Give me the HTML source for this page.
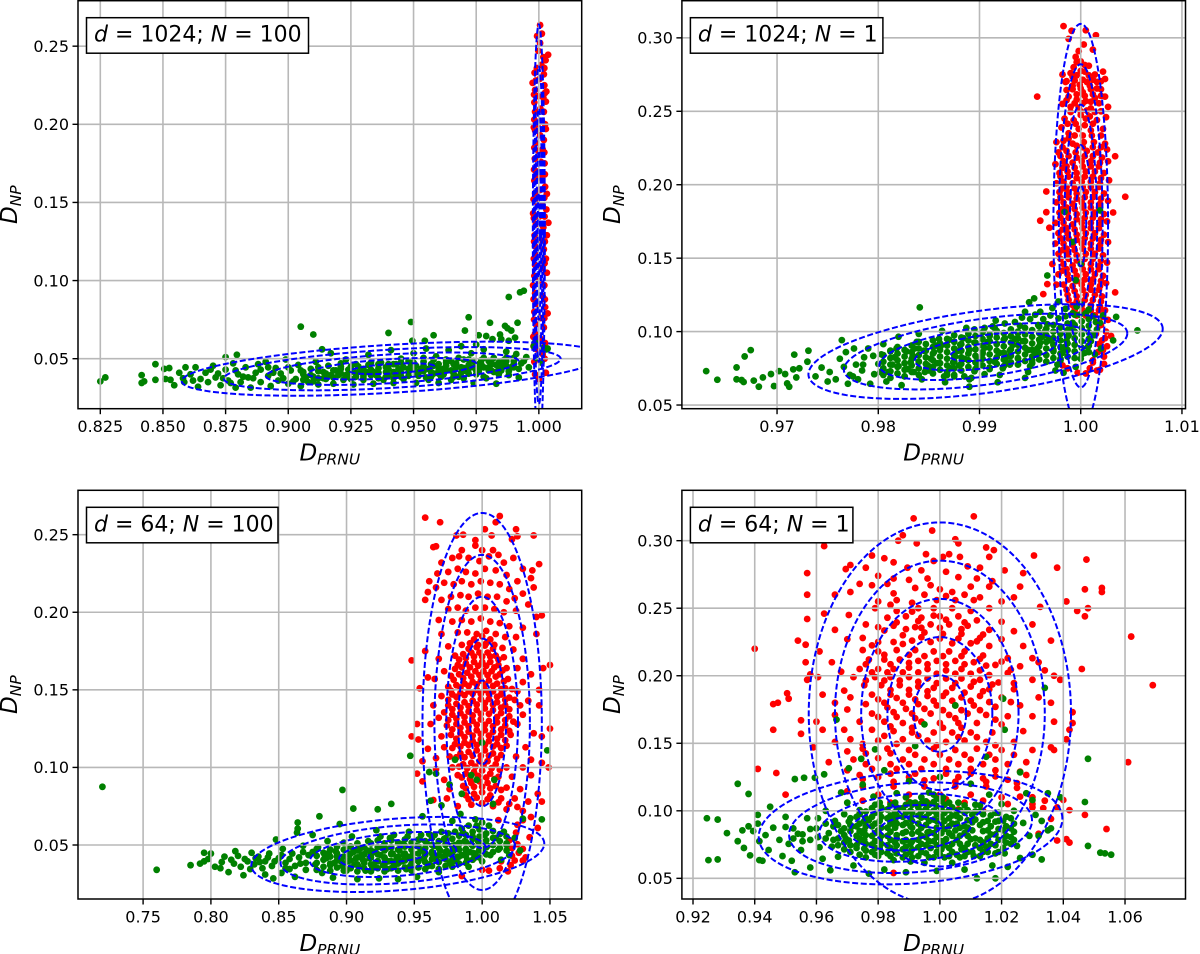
<!DOCTYPE html>
<html lang="en">
<head>
<meta charset="utf-8">
<title>Scatter panels of D_NP against D_PRNU</title>
<style>
html,body{margin:0;padding:0;background:#fff;width:1200px;height:954px;overflow:hidden}
svg{display:block;filter:blur(.35px)}
text{font-family:"DejaVu Sans","Liberation Sans",sans-serif;fill:#000}
</style>
</head>
<body>
<svg id="figure" width="1200" height="954" viewBox="0 0 1200 954" xmlns="http://www.w3.org/2000/svg"></svg>
<script>
const contourLevels=[1,2,3,4,5];

const p1XTicks=[0.825,0.85,0.875,0.9,0.925,0.95,0.975,1.0];
const p1YTicks=[0.05,0.1,0.15,0.2,0.25];
const p2XTicks=[0.97,0.98,0.99,1.0,1.01];
const p2YTicks=[0.05,0.1,0.15,0.2,0.25,0.3];
const p3XTicks=[0.75,0.8,0.85,0.9,0.95,1.0,1.05];
const p3YTicks=[0.05,0.1,0.15,0.2,0.25];
const p4XTicks=[0.92,0.94,0.96,0.98,1.0,1.02,1.04,1.06];
const p4YTicks=[0.05,0.1,0.15,0.2,0.25,0.3];

// contour parameters: centre x, centre y, sigma x, sigma y, correlation
const p1GreenContour=[0.9415,0.0436,0.0168,0.00346,0.46];
const p1RedContour=[1.0,0.129,0.00048,0.027,0];
const p2GreenContour=[0.9906,0.0864,0.0035,0.00645,0.48];
const p2RedContour=[1.0,0.172,0.00054,0.0275,0];
const p3GreenContour=[0.9378,0.0439,0.0216,0.00484,0.29];
const p3RedContour=[1.0,0.129,0.0088,0.027,0];
const p4GreenContour=[0.9905,0.0875,0.00984,0.0084,0.16];
const p4RedContour=[1.0,0.172,0.0085,0.0283,0];

// scatter values as x,y pairs
const p1Red=[1.0005,.2635,.9993,.2565,1.0012,.258,1.0005,.252,.9998,.247,1.0018,.243,1.0037,.2445,1.0027,.241,1.001,.238,.9992,.236,1.002,.232,.9975,.2265,.9988,.228,1.0003,.229,1.0022,.225,1.003,.221,.9985,.222,.9997,.218,1.0018,.217,1.0028,.2145,.9982,.214,.9985,.208,1.0006,.21,1.002,.208,.9982,.203,.9995,.2,1.0012,.202,1.0028,.197,.9985,.196,1.0005,.193,1.002,.19,.9988,.188,.9998,.183,1.0015,.184,.9984,.178,1.0008,.176,1.0023,.175,.9988,.17,.9998,.166,1.0016,.168,.9982,.164,1.0025,.16,1.0005,.158,.9985,.156,1.0032,.1555,.9992,.15,1.0015,.148,.9977,.143,1.003,.1455,1.0002,.141,.9988,.136,1.0038,.137,1.0018,.134,.9983,.129,1.0032,.129,1.0005,.126,.9985,.122,1.002,.12,.9995,.116,1.0028,.114,.9985,.11,1.0012,.108,1.0032,.105,.9982,.103,1.0,.1,1.0022,.097,.9977,.097,.9985,.092,1.0015,.09,.9992,.085,1.0025,.083,.9982,.08,1.0035,.079,1.0008,.076,.9988,.072,1.002,.07,.9985,.066,1.0005,.063,.9978,.064,1.0025,.06,.9992,.056,1.0015,.053,.9982,.048,1.0028,.041,1.0,.037,.9985,.04,
.9983,.233,1.0022,.236,.9981,.219,1.0024,.22,.998,.198,1.0025,.2,.9982,.185,1.0022,.182,.9981,.171,1.0024,.168,.9979,.152,1.0022,.153,.998,.14,1.0023,.141,.9981,.125,1.0024,.125,.998,.114,1.0023,.111,.9979,.088,1.0024,.088,.9981,.075,1.0022,.076,.9979,.058,1.0023,.05];
const p1Green=[.825,.0355,.827,.038,.8415,.0395,.8415,.0345,.8425,.0355,.847,.0465,.847,.0365,.8505,.0435,.8525,.044,.851,.037,.853,.0365,.8545,.033,.8565,.041,.858,.0375,.859,.0445,.8585,.035,.905,.0705,.91,.0655,.94,.0665,.949,.0735,.972,.0765,.9705,.068,.9805,.073,.9865,.071,.9915,.073,.988,.0895,.9925,.0925,.994,.0935,.9875,.0695,.989,.068,.9845,.0655,.985,.0625,.988,.0615,.9905,.0635,.976,.065,.979,.0645,.9815,.0625,.975,.059,.958,.065,.9545,.0615,.9495,.0615,.9135,.056,.8795,.0525,.875,.051,
.862,.036,.863,.0445,.864,.032,.867,.041,.868,.035,.87,.0455,.871,.038,.873,.033,.875,.043,.876,.036,.878,.047,.879,.0315,.88,.04,.881,.035,.883,.0445,.884,.038,.885,.0315,.887,.041,.888,.0465,.889,.035,.891,.048,.892,.039,.893,.0325,.895,.044,.896,.036,.897,.0405,.899,.0495,.9,.034,.901,.0425,.903,.037,.904,.046,.905,.0325,.906,.04,.908,.035,.909,.0435,.91,.0385,.911,.048,.912,.0335,.914,.0415,.915,.037,.916,.0455,.917,.0535,.918,.034,.92,.0395,.921,.0435,.922,.0365,.923,.0495,.925,.0415,.926,.0335,.927,.0385,.928,.045,.93,.0365,.931,.0415,.932,.0525,.933,.0475,.934,.034,.935,.0395,.936,.044,.938,.0365,.939,.0415,.94,.0465,.941,.0555,.942,.0345,.943,.0395,.944,.0435,.945,.05,.946,.037,.948,.0415,.949,.0455,.95,.0535,.951,.0345,.952,.039,.953,.0435,.954,.048,.955,.0565,.956,.0365,.957,.0415,.958,.0455,.959,.0515,.96,.0345,.961,.0385,.962,.0435,.963,.0475,.964,.0555,.965,.0365,.966,.0405,.967,.0445,.968,.0505,.969,.058,.97,.0375,.971,.042,.972,.046,.973,.0535,.974,.0345,.975,.04,.976,.0445,.977,.049,.978,.056,.979,.0375,.98,.0425,.981,.0465,.982,.0505,.983,.034,.984,.04,.985,.045,.986,.049,.987,.0545,.988,.0395,.989,.0445,.99,.0485,.991,.053,.992,.038,.993,.047,.995,.051,.996,.0445,.998,.058,.999,.0505,.9985,.0605,1.001,.0475,1.002,.057,1.003,.056,1.0035,.0565,
.861,.04,.865,.037,.869,.043,.872,.0405,.874,.0375,.877,.0345,.879,.0425,.882,.0385,.886,.0375,.889,.043,.892,.0445,.894,.041,.898,.0375,.9,.0445,.902,.0355,.905,.0425,.907,.038,.91,.0355,.912,.0445,.914,.0375,.917,.0395,.919,.0425,.921,.047,.923,.0395,.925,.037,.925,.045,.928,.0415,.93,.0435,.93,.039,.932,.046,.934,.0415,.936,.0375,.937,.0475,.94,.0395,.94,.0435,.942,.0375,.943,.0465,.945,.041,.946,.0445,.948,.039,.95,.0435,.95,.0475,.952,.0415,.954,.0455,.955,.038,.956,.0435,.958,.0405,.958,.0495,.96,.0425,.96,.0465,.962,.04,.963,.0455,.965,.0425,.965,.0485,.967,.047,.968,.0385,.97,.044,.97,.0495,.972,.0405,.974,.0445,.974,.0485,.976,.042,.977,.0465,.978,.0385,.98,.0445,.98,.0485,.982,.0415,.983,.046,.985,.0425,.986,.047,.987,.0505,.988,.042,.99,.0465,.992,.0435,.994,.0485];
const p1GreenCore=[.906,.0365,.906,.0415,.909,.0395,.912,.0375,.912,.042,.915,.0405,.918,.038,.918,.0425,.921,.0405,.921,.045,.924,.0385,.924,.043,.927,.041,.927,.0465,.93,.0375,.93,.0415,.933,.0395,.933,.043,.936,.041,.936,.0465,.939,.0385,.939,.0445,.942,.0415,.942,.0465,.945,.0385,.945,.0475,.948,.0435,.948,.0485,.951,.04,.951,.0455,.954,.042,.954,.0505,.957,.0385,.957,.0465,.96,.0405,.96,.0445,.963,.0425,.963,.0495,.966,.0385,.966,.0465,.969,.041,.969,.0445,.972,.0435,.972,.0495,.975,.0425,.975,.0465,.978,.0445,.978,.0505,.981,.0425,.981,.0485,.984,.0435,.984,.0475,.987,.0455,.987,.0485,.99,.0445,.99,.0505];

const p2Red=[.9983,.308,.9957,.26,1.0044,.1918,1.0034,.2194,1.0032,.1811,.9966,.1954,.9966,.1813,.996,.1755,.9969,.1707,.9963,.1255,.9967,.1323,1.0034,.1267,.9991,.3048,.9988,.2993,1.0015,.3018,1.0005,.3052,1.0003,.2955,.9998,.291,1.0012,.292,.9995,.287,1.0,.284,.9993,.28,1.0008,.281,.999,.276,.9982,.275,1.0004,.277,1.0014,.275,1.0022,.277,.9994,.271,.9999,.268,1.0006,.27,1.0016,.27,1.0024,.272,.9985,.27,.9992,.265,1.0002,.263,1.001,.265,1.002,.265,.9988,.26,.9996,.258,1.0005,.257,1.0014,.259,1.0024,.26,.9982,.255,.999,.253,1.0,.25,1.001,.252,1.002,.25,1.0027,.253,.9984,.245,.9993,.244,1.0005,.245,1.0016,.244,1.0025,.246,.9981,.239,.9988,.235,.9998,.238,1.001,.237,1.0022,.238,.9983,.23,.9976,.229,.9992,.228,1.0003,.229,1.0013,.229,1.0024,.228,.9978,.222,.9986,.223,.9995,.222,1.0006,.223,1.0017,.222,1.0026,.224,.9975,.214,.9983,.216,.9992,.215,1.0001,.216,1.001,.216,1.0019,.215,1.0027,.216,.9979,.208,.9987,.209,.9996,.208,1.0005,.209,1.0014,.209,1.0023,.208,.9976,.201,.9983,.202,.9992,.201,1.0001,.202,1.001,.202,1.0019,.201,1.0028,.203,.9979,.195,.9987,.195,.9996,.194,1.0005,.195,1.0014,.195,1.0023,.194,.9976,.188,.9983,.188,.9992,.187,1.0001,.188,1.001,.188,1.0019,.187,1.0027,.189,.9979,.181,.9987,.181,.9996,.18,1.0005,.181,1.0014,.181,1.0023,.18,.9975,.174,.9983,.174,.9992,.173,1.0001,.174,1.001,.174,1.0019,.173,1.0026,.175,.9978,.167,.9987,.167,.9996,.166,1.0005,.167,1.0014,.167,1.0023,.166,.9975,.16,.9983,.16,.9992,.159,1.0001,.16,1.001,.16,1.0019,.159,1.0027,.161,.9978,.153,.9987,.153,.9996,.152,1.0005,.153,1.0014,.153,1.0022,.152,.9972,.146,.9983,.146,.9992,.145,1.0001,.146,1.001,.146,1.0019,.145,1.0026,.147,.9978,.139,.9987,.139,.9996,.138,1.0005,.139,1.0014,.139,1.0022,.138,.9976,.132,.9983,.132,.9992,.131,1.0001,.132,1.001,.132,1.0019,.131,1.0025,.133,.9987,.125,.9996,.124,1.0005,.125,1.0014,.125,1.0021,.124,.9992,.118,1.0001,.118,1.001,.118,1.0019,.117,.9996,.111,1.0005,.111,1.0014,.111,1.0022,.11,1.0027,.108,1.0018,.104,1.0025,.1,1.003,.097,1.0021,.094,1.0026,.09,1.0017,.086,1.0023,.083,1.0012,.079,.9987,.075,.9997,.072,1.0009,.075,1.0019,.074,1.0023,.078,.9982,.077];
const p2RedCore=[.9996,.2835,1.0004,.2815,1.0,.2775,1.0008,.2745,.9992,.2735,.9986,.2705,.9996,.2745,1.0012,.2715,1.0002,.2715,1.002,.2705,.9992,.2675,1.0,.2655,1.0009,.2675,1.0016,.2655,.9986,.2645,.9996,.2615,1.0004,.2605,1.0012,.2615,1.002,.2605,.9986,.2575,.9994,.2555,1.0002,.2555,1.001,.2565,1.0018,.2555,.999,.2495,.9998,.2525,1.0006,.2505,1.0014,.2495,1.0,.2475,1.0009,.2465,.9987,.2415,.9995,.2415,1.0004,.2405,1.0012,.2415,.9994,.2335,1.0002,.2335,1.0011,.2335,1.002,.2335,.9988,.2315,.9996,.2265,1.0002,.2255,1.0012,.2255,1.002,.2255,.9982,.2255,.9988,.2195,.9996,.2185,1.0004,.2195,1.0012,.2195,1.0021,.2185,.998,.2195,.9986,.2125,.9994,.2115,1.0002,.2125,1.001,.2125,1.0018,.2125,.9982,.2115,.9988,.2055,.9996,.2045,1.0004,.2055,1.0012,.2055,1.002,.2045,.998,.2055,.9986,.1985,.9994,.1975,1.0002,.1985,1.001,.1985,1.0018,.1985,.9982,.1975,.9988,.1915,.9996,.1905,1.0004,.1915,1.0012,.1915,1.002,.1905,.998,.1915,.9986,.1845,.9994,.1835,1.0002,.1845,1.001,.1845,1.0018,.1845,.9982,.1835,.9988,.1775,.9996,.1765,1.0004,.1775,1.0012,.1775,1.002,.1765,.998,.1775,.9986,.1705,.9994,.1695,1.0002,.1705,1.001,.1705,1.0018,.1705,.9982,.1695,.9988,.1635,.9996,.1625,1.0004,.1635,1.0012,.1635,1.002,.1625,.998,.1635,.9986,.1565,.9994,.1555,1.0002,.1565,1.001,.1565,1.0018,.1565,.9982,.1555,.9988,.1495,.9996,.1485,1.0004,.1495,1.0012,.1495,1.002,.1485,.998,.1495,.9986,.1425,.9994,.1415,1.0002,.1425,1.001,.1425,1.0018,.1425,.9982,.1415,.9988,.1355,.9996,.1345,1.0004,.1355,1.0012,.1355,1.002,.1345,.9986,.1285,.9994,.1275,1.0002,.1285,1.001,.1285,1.0018,.1285,.9988,.1215,.9996,.1205,1.0004,.1215,1.0012,.1215,1.002,.1205,.9994,.1145,1.0002,.1145,1.001,.1145,1.0018,.1145,1.0024,.1145,1.0015,.0985,1.002,.1045,1.0024,.0955,1.0018,.0915,1.0022,.0875,1.0012,.0805,1.0016,.0735,1.0005,.0715];
const p2Green=[.963,.0731,.9641,.0672,.966,.0756,.966,.0675,.9665,.067,.9668,.0831,.9674,.0874,.9667,.0657,.9677,.0666,.9682,.0625,.9686,.0688,.9694,.0711,.9697,.0629,.9702,.0731,.9708,.0711,.971,.0647,.9712,.0625,.9716,.0743,.9717,.0843,.9719,.0688,.9722,.075,.9731,.087,.973,.0795,.9764,.0942,.9841,.1165,1.0056,.1008,1.0035,.11,1.0032,.094,.9949,.12,.9954,.1226,.9967,.1382,.9984,.1815,1.0019,.1825,.9992,.161,1.0,.146,.9995,.135,
.9738,.0695,.9744,.0755,.975,.066,.9752,.0725,.9758,.0675,.9762,.0815,.9766,.076,.977,.0645,.9772,.0705,.9776,.0885,.9778,.0775,.978,.0675,.9784,.0735,.9786,.0825,.979,.0885,.9792,.0645,.9796,.071,.98,.078,.9803,.0845,.9805,.0915,.9808,.066,.981,.0725,.9814,.0775,.9816,.0825,.9818,.0885,.982,.0965,.9823,.0635,.9826,.0695,.9829,.0745,.9832,.079,.9834,.0835,.9836,.0885,.9838,.093,.984,.0985,.9843,.0675,.9846,.0725,.9849,.077,.9852,.0815,.9855,.086,.9857,.0905,.986,.095,.9863,.1005,.9866,.0655,.9868,.0705,.9871,.075,.9874,.079,.9876,.083,.9879,.087,.9881,.091,.9884,.0955,.9887,.1025,.989,.0625,.9892,.0685,.9895,.073,.9898,.077,.99,.081,.9903,.085,.9905,.089,.9908,.093,.991,.097,.9913,.1035,.9916,.1075,.9918,.0655,.992,.0705,.9923,.075,.9926,.079,.9928,.083,.993,.087,.9933,.091,.9935,.095,.9938,.099,.994,.104,.9942,.1095,.9945,.0685,.9948,.0725,.995,.0765,.9952,.0805,.9955,.0845,.9957,.0885,.996,.0925,.9962,.0965,.9965,.1005,.9967,.105,.997,.111,.9972,.116,.9975,.0735,.9977,.0775,.998,.0815,.9982,.0855,.9984,.0895,.9986,.0935,.9988,.0975,.999,.1015,.9992,.106,.9994,.1115,.9996,.117,.9983,.072,.9995,.076,1.0,.0815,1.0004,.0855,1.0007,.0895,1.001,.0935,1.0013,.0975,1.0016,.1015,1.0019,.106,1.0022,.111,1.0,.1185,1.0008,.115,1.0014,.0845,1.002,.0885,.9978,.1205,.9985,.1155,.9969,.094,.9973,.0875,.9958,.1045,.9963,.1085,.995,.1085,.9943,.0935,.9948,.0875,.9938,.0815,.993,.0775,.9925,.0955,.992,.0855,.9915,.0795,.991,.0745,.9905,.071,.9895,.0925,.989,.0875,.9885,.0815,.988,.077,.9875,.0705,.987,.0945,.9862,.0905,.9858,.0785,.985,.0735,.9845,.087,.984,.0795,.9835,.0725,.9828,.0865,.982,.0765,.9812,.087,.9802,.0725,.9795,.0835,.9785,.0775,.9775,.0695,.9768,.086];
const p2GreenCore=[.9805,.0705,.9805,.075,.9805,.0795,.9805,.084,.9812,.0685,.9812,.073,.9812,.0775,.9812,.082,.9812,.0865,.9819,.0715,.9819,.076,.9819,.0805,.9819,.085,.9819,.0895,.9826,.0695,.9826,.074,.9826,.0785,.9826,.083,.9826,.0875,.9833,.0725,.9833,.077,.9833,.0815,.9833,.086,.9833,.0905,.984,.0705,.984,.075,.984,.0795,.984,.084,.984,.0885,.984,.093,.9847,.0735,.9847,.078,.9847,.0825,.9847,.087,.9847,.0915,.9854,.0715,.9854,.076,.9854,.0805,.9854,.085,.9854,.0895,.9854,.094,.9861,.074,.9861,.0785,.9861,.083,.9861,.0875,.9861,.092,.9868,.0725,.9868,.077,.9868,.0815,.9868,.086,.9868,.0905,.9868,.095,.9875,.075,.9875,.0795,.9875,.084,.9875,.0885,.9875,.093,.9875,.0975,.9882,.0735,.9882,.078,.9882,.0825,.9882,.087,.9882,.0915,.9882,.096,.9889,.076,.9889,.0805,.9889,.085,.9889,.0895,.9889,.094,.9889,.0985,.9896,.0745,.9896,.079,.9896,.0835,.9896,.088,.9896,.0925,.9896,.097,.9903,.077,.9903,.0815,.9903,.086,.9903,.0905,.9903,.095,.9903,.0995,.991,.0755,.991,.08,.991,.0845,.991,.089,.991,.0935,.991,.098,.9917,.078,.9917,.0825,.9917,.087,.9917,.0915,.9917,.096,.9917,.1005,.9924,.0765,.9924,.081,.9924,.0855,.9924,.09,.9924,.0945,.9924,.099,.9931,.079,.9931,.0835,.9931,.088,.9931,.0925,.9931,.097,.9931,.1015,.9938,.0775,.9938,.082,.9938,.0865,.9938,.091,.9938,.0955,.9938,.1,.9945,.08,.9945,.0845,.9945,.089,.9945,.0935,.9945,.098,.9945,.1025,.9952,.0785,.9952,.083,.9952,.0875,.9952,.092,.9952,.0965,.9952,.101,.9959,.081,.9959,.0855,.9959,.09,.9959,.0945,.9959,.099,.9959,.1035,.9966,.0795,.9966,.084,.9966,.0885,.9966,.093,.9966,.0975,.9966,.102,.9973,.082,.9973,.0865,.9973,.091,.9973,.0955,.9973,.1,.9973,.1045,.998,.0805,.998,.085,.998,.0895,.998,.094,.998,.0985,.998,.103,.9987,.083,.9987,.0875,.9987,.092,.9987,.0965,.9987,.101,.9987,.1055,.9994,.082,.9994,.0865,.9994,.091,.9994,.0955,.9994,.1,.9994,.1045,1.0001,.0845,1.0001,.089,1.0001,.0935,1.0001,.098,1.0001,.1025,1.0001,.107,1.0008,.086,1.0008,.0905,1.0008,.095,1.0008,.0995,1.0008,.104,1.0008,.1085,.9978,.109,.9985,.1105,.9992,.1125,.9999,.1115,1.0005,.1125,1.0012,.1105,1.0015,.1065,.996,.1135,.9955,.1115,.9945,.1135,.9935,.1065,.9925,.1055,.9915,.1025,.9905,.1025,.9895,.1015,.989,.0675,.9885,.0695,.9875,.0695,.9865,.0695];

const p3Red=[.958,.261,.969,.258,1.013,.262,1.01,.258,1.002,.2535,.986,.25,.981,.2495,.995,.2465,1.007,.2495,1.025,.2535,1.026,.249,1.022,.247,1.038,.2495,.964,.242,.966,.2425,.995,.243,.985,.24,1.0,.24,1.008,.24,1.012,.237,1.023,.235,1.042,.231,.97,.232,.978,.235,.983,.236,.99,.235,.998,.233,1.005,.236,1.016,.232,1.03,.228,1.037,.227,.961,.22,.967,.225,.975,.226,.982,.228,.988,.226,.995,.225,1.002,.228,1.01,.227,1.018,.224,1.026,.22,1.036,.222,.96,.213,.966,.216,.972,.219,.979,.218,.985,.22,.992,.218,.999,.22,1.006,.219,1.013,.218,1.02,.215,1.03,.212,1.038,.216,.958,.208,.97,.208,.977,.21,.984,.211,.99,.21,.997,.212,1.004,.21,1.011,.21,1.018,.207,1.024,.209,1.034,.205,.975,.202,.982,.203,.988,.201,.995,.203,1.002,.203,1.009,.202,1.016,.2,1.025,.201,1.04,.197,1.044,.198,.968,.195,.978,.194,.985,.195,.992,.194,.999,.196,1.006,.194,1.013,.193,1.02,.191,1.03,.19,.97,.186,.982,.187,.989,.187,.996,.186,1.003,.188,1.01,.186,1.017,.184,1.025,.184,1.04,.186,.975,.178,.985,.179,.991,.18,.997,.179,1.003,.18,1.009,.179,1.015,.177,1.023,.176,.958,.175,.948,.169,.968,.17,.98,.172,.986,.173,.992,.174,.998,.174,1.004,.174,1.01,.172,1.016,.171,1.03,.17,1.05,.166,1.045,.164,.96,.158,.972,.162,.982,.166,.988,.167,.994,.168,1.0,.168,1.006,.168,1.012,.166,1.018,.164,1.026,.164,1.036,.16,.954,.151,.965,.157,.977,.159,.983,.16,.989,.161,.995,.162,1.001,.162,1.007,.162,1.013,.16,1.019,.157,1.03,.155,.975,.152,.981,.153,.987,.154,.993,.155,.999,.156,1.005,.156,1.011,.154,1.017,.151,1.026,.149,1.042,.15,.97,.146,.978,.147,.984,.148,.99,.149,.996,.15,1.002,.15,1.008,.149,1.014,.147,1.02,.145,1.034,.143,.964,.14,.975,.14,.981,.141,.987,.142,.993,.143,.999,.144,1.005,.144,1.011,.142,1.017,.14,1.028,.14,1.042,.14,.968,.132,.978,.134,.984,.135,.99,.136,.996,.137,1.002,.138,1.008,.137,1.014,.135,1.02,.133,1.03,.134,.952,.128,.962,.128,.974,.127,.981,.128,.987,.129,.993,.13,.999,.131,1.005,.13,1.011,.129,1.017,.127,1.026,.128,1.05,.125,.948,.12,.953,.118,.97,.12,.977,.121,.984,.122,.99,.123,.996,.124,1.002,.124,1.008,.123,1.014,.121,1.021,.121,1.038,.122,1.044,.12,.96,.112,.972,.113,.98,.115,.987,.116,.993,.117,.999,.118,1.005,.117,1.011,.115,1.018,.114,1.032,.113,.956,.104,.966,.106,.976,.107,.984,.109,.99,.11,.996,.111,1.002,.111,1.008,.109,1.014,.108,1.025,.107,1.036,.105,.966,.099,.978,.1,.986,.102,.992,.103,.998,.104,1.004,.104,1.01,.102,1.018,.1,1.03,.1,1.044,.103,1.049,.1,.952,.096,.956,.091,.972,.092,.982,.095,.988,.096,.994,.097,1.0,.098,1.006,.096,1.012,.094,1.022,.094,1.036,.095,.976,.086,.986,.088,.992,.09,.998,.091,1.004,.09,1.01,.088,1.018,.087,1.028,.086,1.041,.083,.964,.079,.974,.08,.988,.082,.994,.083,1.0,.084,1.006,.082,1.014,.08,1.024,.08,1.034,.078,1.044,.078,.982,.075,.992,.076,1.0,.077,1.008,.075,1.018,.073,1.03,.072,1.036,.068,1.041,.061,1.026,.063,1.012,.066,1.022,.048,1.027,.045,1.032,.042,1.035,.055,1.024,.04,1.03,.04,1.021,.037,1.013,.035,1.019,.033,1.0,.034,.985,.03];
const p3RedCore=[.994,.1825,1.0,.1845,1.006,.1825,.99,.1765,.996,.1775,1.002,.1785,1.008,.1765,.988,.1705,.994,.1715,1.0,.1715,1.006,.1715,1.012,.1695,.983,.1695,.985,.1645,.991,.1645,.997,.1655,1.003,.1655,1.009,.1645,1.015,.1625,.98,.1635,.986,.1575,.992,.1585,.998,.1595,1.004,.1595,1.01,.1585,1.016,.1555,.979,.1565,.984,.1515,.99,.1525,.996,.1535,1.002,.1535,1.008,.1525,1.014,.1505,1.022,.1505,.977,.1495,.981,.1455,.987,.1465,.993,.1475,.999,.1475,1.005,.1475,1.011,.1455,1.017,.1435,1.024,.1435,.975,.1435,.978,.1375,.984,.1385,.99,.1395,.996,.1405,1.002,.1415,1.008,.1405,1.014,.1385,1.02,.1375,.972,.1355,.981,.1315,.987,.1325,.993,.1335,.999,.1345,1.005,.1345,1.011,.1325,1.017,.1305,1.023,.1295,.975,.1305,.978,.1245,.984,.1255,.99,.1265,.996,.1275,1.002,.1275,1.008,.1265,1.014,.1245,1.02,.1235,.981,.1185,.987,.1195,.993,.1205,.999,.1215,1.005,.1205,1.011,.1185,1.017,.1175,.978,.1125,.984,.1135,.99,.1145,.996,.1145,1.002,.1145,1.008,.1135,1.014,.1125,.981,.1065,.987,.1065,.993,.1075,.999,.1075,1.005,.1075,1.011,.1055,.983,.1005,.989,.0995,.995,.1005,1.001,.1015,1.007,.0995,1.013,.0985,.985,.0935,.991,.0925,.997,.0945,1.003,.0935,1.009,.0925,.988,.0865,.994,.0875,1.0,.0875,1.006,.0865,1.014,.0855,.99,.0795,.996,.0805,1.004,.0795,1.012,.0775,1.02,.0765,1.026,.0745,1.03,.066,1.025,.058,1.02,.053,1.026,.0505,1.03,.0475,1.022,.043,1.014,.0395,1.005,.0335];
const p3Green=[.72,.0875,.76,.034,.785,.037,.792,.038,.795,.0395,.795,.045,.798,.041,.8,.0445,.803,.036,.807,.035,.808,.039,.81,.0425,.813,.0325,.815,.0405,.817,.038,.818,.046,.82,.043,.822,.036,.824,.0305,.825,.041,.827,.0395,.829,.0345,.83,.045,.832,.0375,.835,.0425,.838,.035,.84,.031,.84,.0395,.843,.0445,.845,.0365,.846,.0285,.848,.0535,.85,.0415,.852,.032,.853,.0475,.855,.0385,.858,.0345,.86,.0445,.862,.0295,.864,.0605,.8635,.058,.864,.0645,.866,.038,.868,.0495,.87,.034,.872,.0435,.875,.0565,.877,.0375,.879,.0485,.88,.0685,.882,.032,.884,.0435,.886,.0525,.888,.037,.89,.029,.892,.046,.895,.0635,.897,.0855,.896,.0395,.898,.0515,.9,.0335,.902,.0435,.904,.0555,.905,.0735,.906,.0375,.908,.028,.91,.0475,.912,.0405,.914,.0335,.916,.0525,.918,.044,.92,.0375,.922,.0595,.923,.073,.924,.0285,.926,.0485,.928,.0415,.93,.0345,.932,.0545,.933,.0765,.934,.0445,.936,.0385,.938,.028,.94,.0505,.942,.0435,.944,.0345,.946,.0585,.948,.047,.95,.0405,.952,.0295,.954,.0535,.956,.0685,.958,.0445,.96,.0365,.962,.0785,.961,.057,.964,.0495,.966,.0415,.968,.0325,.97,.0755,.972,.054,.974,.046,.976,.0385,.978,.0655,.98,.05,.982,.0425,.984,.07,.986,.058,.988,.0465,.99,.036,.992,.0505,.994,.0415,.996,.0625,.998,.047,1.0,.0395,1.002,.0565,1.004,.0495,1.006,.0435,1.008,.0765,1.01,.0545,1.012,.047,1.014,.0405,1.016,.0585,1.018,.05,1.02,.0435,1.024,.0545,1.028,.0465,1.03,.067,1.044,.0665,1.048,.111,.947,.1075,.98,.105,.961,.097,.966,.096,.985,.083,.976,.089,.992,.095,.996,.092,1.009,.092,1.0,.116,
.885,.0415,.887,.045,.891,.0385,.893,.0425,.897,.0365,.899,.047,.901,.0395,.903,.035,.905,.0455,.907,.0415,.909,.036,.911,.0435,.913,.0385,.915,.0465,.917,.0415,.919,.035,.921,.0455,.923,.0395,.925,.0435,.927,.037,.929,.0475,.931,.0395,.933,.0445,.935,.0365,.937,.0415,.939,.0465,.941,.0395,.943,.0495,.945,.0425,.947,.0365,.949,.0445,.951,.0495,.953,.0395,.955,.0465,.957,.0415,.959,.0515,.961,.0375,.963,.0445,.965,.0495,.967,.0395,.969,.0465,.971,.0425,.973,.0505,.975,.0445,.977,.0385,.979,.0465,.981,.0395,.983,.0505,.985,.0435,.987,.0525,.989,.0405,.991,.0455,.993,.0555,.995,.0445,.997,.0525,.999,.0465];
const p3GreenCore=[.878,.034,.878,.0385,.878,.043,.878,.0475,.883,.036,.883,.0405,.883,.045,.888,.0335,.888,.038,.888,.0425,.888,.047,.893,.0355,.893,.04,.893,.0445,.893,.049,.898,.0335,.898,.038,.898,.0425,.898,.047,.903,.0355,.903,.04,.903,.0445,.903,.049,.908,.033,.908,.0375,.908,.042,.908,.0465,.908,.051,.913,.035,.913,.0395,.913,.044,.913,.0485,.918,.033,.918,.0375,.918,.042,.918,.0465,.918,.051,.923,.035,.923,.0395,.923,.044,.923,.0485,.923,.053,.928,.033,.928,.0375,.928,.042,.928,.0465,.928,.051,.933,.035,.933,.0395,.933,.044,.933,.0485,.933,.053,.938,.0335,.938,.038,.938,.0425,.938,.047,.938,.0515,.943,.0355,.943,.04,.943,.0445,.943,.049,.943,.0535,.948,.0335,.948,.038,.948,.0425,.948,.047,.948,.0515,.953,.0355,.953,.04,.953,.0445,.953,.049,.953,.0535,.958,.0345,.958,.039,.958,.0435,.958,.048,.958,.0525,.963,.0365,.963,.041,.963,.0455,.963,.05,.963,.0545,.968,.0345,.968,.039,.968,.0435,.968,.048,.968,.0525,.973,.0365,.973,.041,.973,.0455,.973,.05,.973,.0545,.978,.036,.978,.0405,.978,.045,.978,.0495,.978,.054,.983,.038,.983,.0425,.983,.047,.983,.0515,.983,.056,.988,.0385,.988,.043,.988,.0475,.988,.052,.988,.0565,.993,.0405,.993,.045,.993,.0495,.993,.054,.993,.0585,.998,.042,.998,.0465,.998,.051,.998,.0555,.998,.06,1.003,.044,1.003,.0485,1.003,.053,1.003,.0575,1.008,.0455,1.008,.05,1.008,.0545,1.008,.059,1.013,.048,1.013,.0525,1.013,.057,1.018,.0465,1.018,.051,1.018,.0555,.985,.0605,.99,.0625,.995,.0665,1.0,.0645,1.005,.0625,.98,.0585,.975,.0575,.97,.0585,.965,.0565,.955,.0565,.945,.0555,.935,.0565,.925,.0555,.865,.042,.87,.0385,.875,.0455,.868,.0455,.862,.0365,.858,.041,.852,.0435,.855,.035,.847,.0395,.842,.042,.836,.039,.833,.0415];

const p4Red=[1.011,.318,.9915,.3165,.9975,.3075,.988,.304,.9865,.3,.9625,.296,.9925,.298,1.005,.301,1.006,.298,.9955,.29,1.003,.29,1.0065,.288,1.015,.295,1.0175,.293,1.016,.288,.978,.289,.982,.287,.985,.284,.998,.285,1.001,.288,1.0305,.289,1.0475,.286,.971,.282,.9695,.279,.957,.276,.976,.28,.9895,.28,.994,.278,1.002,.277,1.009,.281,1.013,.28,1.021,.278,1.038,.28,.98,.274,.985,.272,.99,.271,.996,.272,1.006,.273,1.012,.272,1.017,.27,1.027,.276,.974,.268,.978,.267,.983,.268,.992,.265,.997,.267,1.0,.264,1.004,.262,1.01,.266,1.016,.266,1.026,.266,.971,.262,.966,.26,.957,.26,.985,.261,.995,.26,1.002,.259,1.008,.26,1.013,.258,1.024,.258,1.047,.264,1.0525,.265,1.0525,.262,.98,.255,.986,.256,.991,.254,.999,.256,1.005,.256,1.011,.256,1.02,.255,1.0325,.251,1.041,.255,.979,.25,.986,.248,.993,.25,.998,.25,1.004,.25,1.01,.248,1.016,.25,1.0445,.248,1.047,.244,1.048,.25,.9625,.246,.9705,.245,.957,.242,.983,.243,.989,.244,.994,.243,1.0,.244,1.006,.244,1.012,.241,1.02,.24,1.03,.238,.976,.238,.98,.236,.985,.237,.992,.236,.997,.238,1.003,.238,1.009,.237,1.016,.234,1.024,.233,.966,.234,.988,.23,.995,.232,1.001,.231,1.007,.231,1.013,.228,1.02,.227,1.036,.226,.954,.226,.9565,.223,.94,.22,.961,.218,.97,.227,.975,.228,.98,.225,.985,.225,.991,.226,.997,.225,1.004,.224,1.01,.224,1.016,.222,1.027,.222,1.062,.229,.965,.21,.975,.219,.98,.218,.986,.219,.992,.219,.998,.218,1.003,.218,1.008,.218,1.014,.215,1.022,.213,1.03,.213,1.032,.21,1.046,.205,.9565,.21,.958,.201,.9605,.199,.977,.212,.982,.212,.987,.212,.993,.211,.999,.211,1.005,.211,1.011,.21,1.018,.208,1.026,.207,.968,.203,.974,.205,.98,.205,.985,.205,.99,.206,.996,.205,1.002,.204,1.007,.205,1.013,.204,1.022,.202,1.034,.204,1.037,.2,.957,.197,.972,.199,.979,.199,.984,.199,.99,.199,.996,.198,1.002,.198,1.007,.198,1.013,.197,1.019,.195,1.03,.197,1.039,.197,.9755,.193,.981,.193,.987,.193,.993,.192,.998,.191,1.004,.191,1.01,.192,1.016,.19,1.024,.19,1.069,.193,.969,.189,.962,.186,.9505,.187,.951,.183,.946,.179,.9475,.18,.966,.18,.971,.184,.978,.186,.984,.186,.99,.186,.996,.185,1.001,.185,1.007,.184,1.013,.185,1.02,.184,1.032,.184,1.036,.18,.976,.179,.982,.18,.988,.18,.993,.179,.999,.178,1.005,.178,1.011,.178,1.018,.177,1.026,.178,1.043,.173,.97,.175,.966,.171,.978,.172,.985,.173,.991,.172,.997,.172,1.003,.171,1.009,.172,1.015,.171,1.022,.17,1.03,.17,.955,.167,.96,.166,.974,.166,.982,.166,.988,.165,.994,.166,1.0,.165,1.006,.165,1.012,.165,1.02,.164,1.037,.166,1.043,.165,.946,.16,.955,.157,.962,.16,.969,.16,.978,.16,.985,.159,.991,.158,.998,.158,1.004,.158,1.01,.158,1.017,.158,1.027,.159,1.042,.16,.959,.147,.966,.151,.971,.153,.98,.152,.988,.153,.996,.152,1.002,.151,1.008,.152,1.015,.151,1.024,.151,1.036,.147,1.041,.153,.97,.144,.975,.146,.983,.146,.99,.145,.998,.146,1.005,.145,1.012,.146,1.02,.145,1.03,.145,1.037,.145,.941,.131,.947,.128,.964,.136,.972,.138,.98,.139,.988,.138,.995,.138,1.003,.138,1.01,.138,1.018,.138,1.028,.136,1.061,.136,.97,.13,.978,.131,.986,.131,.994,.131,1.002,.131,1.01,.131,1.018,.13,1.026,.129,.98,.125,.99,.125,.998,.124,1.006,.125,1.014,.124,1.022,.123,.95,.112,.975,.118,.985,.118,.995,.118,1.005,.118,1.015,.118,1.025,.117,.98,.112,.99,.112,1.0,.112,1.01,.112,1.02,.11,1.03,.11,1.04,.108,.984,.106,.996,.106,1.008,.106,1.022,.105,1.03,.105,1.0335,.102,1.047,.097,1.036,.094,1.032,.083,1.054,.0865,1.041,.079,1.042,.0765,1.038,.078,1.03,.1025,1.014,.1,1.006,.101,.974,.098,.985,.054];
const p4RedCore=[.984,.2525,.991,.2475,.998,.2445,.986,.2395,.993,.2405,1.002,.2415,1.008,.2395,.982,.2335,.989,.2345,.994,.2355,1.0,.2355,1.007,.2345,1.014,.2305,.978,.2225,.988,.2235,.994,.2285,1.0,.2275,1.006,.2275,1.012,.2255,.982,.2155,.99,.2155,.995,.2145,1.001,.2145,1.007,.2145,1.013,.2125,1.02,.2105,.976,.2085,.984,.2085,.99,.2095,.996,.2085,1.002,.2085,1.008,.2085,1.015,.2075,1.023,.2045,.978,.2025,.983,.2025,.988,.2025,.993,.2025,.999,.2015,1.005,.2015,1.01,.2015,1.016,.2005,.976,.1965,.982,.1965,.987,.1965,.993,.1955,.999,.1945,1.005,.1945,1.011,.1955,1.017,.1935,1.024,.1945,.984,.1895,.99,.1895,.996,.1885,1.002,.1875,1.008,.1875,1.014,.1885,.98,.1825,.986,.1835,.992,.1825,.998,.1815,1.004,.1815,1.01,.1815,1.016,.1805,1.023,.1805,.983,.1765,.989,.1755,.995,.1755,1.001,.1745,1.007,.1745,1.013,.1745,.98,.1695,.986,.1695,.992,.1685,1.005,.1685,1.018,.1675,.984,.1625,.991,.1615,1.001,.1615,1.007,.1615,.982,.1555,.993,.1555,1.006,.1545,1.012,.1545,.975,.1495,.986,.1495,.999,.1485,1.018,.1485,.976,.1425,.984,.1425,.992,.1415,1.0,.1415,1.008,.1415,1.016,.1415,1.024,.1415,.976,.1345,.984,.1345,.99,.1345,.998,.1345,1.006,.1345,1.014,.1345,1.022,.1345,.974,.1265,.984,.1275,.992,.1275,1.002,.1275,1.01,.1275,1.018,.1255,1.028,.1265,.975,.1235,.985,.1215,.995,.1225,1.005,.1215,1.015,.1215,1.025,.1205,.97,.1145,.975,.1075,.99,.1065,1.002,.1085,1.014,.1075,1.026,.1105,1.034,.1075,1.038,.1025,1.042,.1005];
const p4Green=[.9245,.0945,.928,.0935,.931,.0835,.9345,.12,.938,.1125,.9345,.0775,.936,.0855,.9365,.0725,.938,.0885,.9385,.067,.9395,.085,.941,.097,.941,.0905,.9415,.0775,.9415,.0635,.925,.0635,.928,.064,.9425,.063,.9435,.082,.9445,.071,.945,.103,.946,.0875,.948,.0785,.949,.0665,.95,.0955,.95,.088,.951,.0755,.952,.063,.953,.1235,.953,.0545,.954,.083,.955,.071,.956,.1245,.957,.0945,.958,.0785,.958,.058,.9595,.1245,.96,.087,.961,.073,.962,.0645,.9625,.127,.963,.1,.964,.0835,.9645,.056,.965,.0735,.9665,.1675,.966,.0925,.967,.066,.968,.1135,.9695,.0795,.97,.106,.9705,.1315,.9715,.0885,.972,.0595,.973,.0725,.974,.1005,.9745,.1385,.975,.1195,.975,.0835,.976,.0655,.977,.0535,.977,.093,.978,.075,.9785,.1105,.979,.1455,.98,.0855,.98,.0665,.981,.1005,.982,.0565,.982,.13,.983,.0745,.984,.092,.985,.0635,.986,.113,.986,.082,.987,.1015,.988,.0715,.989,.0545,.989,.091,.99,.122,.9905,.0625,.991,.083,.992,.148,.992,.106,.993,.073,.994,.095,.995,.164,.995,.0615,.996,.084,.9965,.1135,.997,.0725,.998,.1,.999,.0555,.999,.0875,1.0,.0675,1.0,.125,1.001,.11,1.002,.079,1.003,.0945,1.004,.0615,1.005,.178,1.005,.0855,1.006,.106,1.007,.0715,1.008,.0565,1.009,.093,1.01,.12,1.01,.079,1.011,.0665,1.012,.05,1.013,.0995,1.014,.085,1.015,.14,1.015,.0735,1.016,.112,1.017,.0595,1.018,.092,1.018,.05,1.019,.0785,1.0205,.183,1.021,.16,1.02,.105,1.021,.0685,1.022,.0585,1.023,.087,1.024,.1,1.025,.074,1.026,.1285,1.026,.065,1.027,.091,1.028,.113,1.029,.0815,1.03,.108,1.03,.0675,1.031,.097,1.032,.0815,1.033,.0925,1.033,.064,1.034,.191,1.035,.113,1.035,.0855,1.036,.087,1.039,.11,1.047,.1065,1.048,.1385,1.048,.074,1.052,.069,1.0535,.0685,1.0555,.0675,
.968,.085,.9705,.092,.9705,.078,.973,.0815,.973,.0885,.973,.0955,.973,.0745,.9755,.0785,.9755,.0855,.9755,.0925,.9755,.072,.978,.0695,.978,.0815,.978,.0885,.978,.0955,.978,.102,.9805,.0725,.9805,.0785,.9805,.0925,.9805,.099,.9805,.106,.983,.0685,.983,.0815,.983,.0875,.983,.0945,.983,.101,.9855,.0705,.9855,.0765,.9855,.0875,.9855,.0935,.9855,.099,.9855,.106,.988,.0655,.988,.0775,.988,.0835,.988,.0895,.988,.0955,.988,.102,.9905,.0695,.9905,.0755,.9905,.0885,.9905,.0945,.9905,.1,.9905,.106,.993,.0665,.993,.0785,.993,.0845,.993,.0905,.993,.0965,.993,.1025,.9955,.0685,.9955,.0745,.9955,.0805,.9955,.0895,.9955,.0955,.9955,.1015,.9955,.107,.998,.0655,.998,.0775,.998,.0835,.998,.0935,.998,.1065,.998,.112,1.0005,.0715,1.0005,.0775,1.0005,.0835,1.0005,.0895,1.0005,.0955,1.0005,.1015,1.0005,.1075,1.003,.0665,1.003,.0725,1.003,.0835,1.003,.0885,1.003,.1005,1.003,.106,1.0055,.0675,1.0055,.0785,1.0055,.0905,1.0055,.096,1.0055,.1,1.008,.0665,1.008,.0725,1.008,.0835,1.008,.0885,1.008,.0985,1.008,.104,1.0105,.0695,1.0105,.0855,1.0105,.0915,1.0105,.097,1.013,.0665,1.013,.0725,1.013,.0785,1.013,.0895,1.013,.104,1.0155,.0695,1.0155,.0795,1.0155,.0855,1.0155,.0925,1.018,.0685,1.018,.0745,1.018,.0825,1.018,.0985,1.0205,.0725,1.0205,.0785,1.0205,.0855,1.0205,.0925,1.023,.0755,1.023,.0805,1.023,.0945,.9655,.0785,.9655,.0885,.963,.0795,.963,.0905,.9605,.0805,.9605,.0945,.958,.0865,.9555,.0825,.9555,.0775,.9525,.087,.9525,.0795];
const p4GreenCore=[.967,.0745,.967,.0795,.967,.0895,.969,.0715,.969,.0765,.969,.082,.969,.087,.969,.0975,.971,.0695,.971,.0745,.971,.085,.971,.0895,.971,.0945,.974,.0675,.974,.0775,.974,.0795,.974,.085,.974,.0905,.974,.0975,.976,.0705,.976,.0755,.976,.082,.976,.0885,.976,.0945,.976,.0995,.979,.0675,.979,.0725,.979,.0775,.979,.0835,.979,.0905,.979,.0985,.979,.1045,.981,.0695,.981,.0755,.981,.0815,.981,.0875,.981,.0955,.981,.1025,.984,.0665,.984,.0725,.984,.0785,.984,.0845,.984,.0905,.984,.0965,.984,.1045,.986,.0685,.986,.0745,.986,.0795,.986,.0905,.986,.0965,.986,.1025,.989,.0675,.989,.0735,.989,.0785,.989,.0845,.989,.0985,.989,.1045,.989,.11,.991,.0655,.991,.0715,.991,.0775,.991,.0875,.991,.0925,.991,.0985,.991,.1045,.994,.0695,.994,.0755,.994,.0815,.994,.0875,.994,.0995,.994,.1055,.994,.11,.9965,.0655,.9965,.0775,.9965,.0845,.9965,.0925,.9965,.0985,.9965,.1045,.999,.0695,.999,.0745,.999,.0805,.999,.0925,.999,.0975,.999,.1035,.999,.109,1.0015,.0655,1.0015,.0745,1.0015,.0865,1.0015,.0925,1.0015,.0985,1.0015,.1045,1.004,.0695,1.004,.0755,1.004,.0815,1.004,.0905,1.004,.0965,1.004,.1025,1.0065,.0655,1.0065,.0755,1.0065,.0815,1.0065,.0875,1.0065,.0945,1.0065,.1005,1.009,.0695,1.009,.0755,1.009,.0815,1.009,.0875,1.009,.1005,1.0115,.0745,1.0115,.0795,1.0115,.0935,1.0115,.0995,1.0115,.1045,1.014,.0695,1.014,.0765,1.014,.0915,1.014,.0975,1.0165,.0755,1.0165,.0825,1.0165,.0885,1.0165,.0965,1.019,.0695,1.019,.0865,1.019,.0925,1.019,.0985,1.0215,.0765,1.0215,.0815,1.0215,.0885,1.0215,.0955,1.024,.0785,1.024,.0845,1.024,.0905];

const svg=document.getElementById('figure');
const NS='http://www.w3.org/2000/svg';

function mk(tag,attrs,parent){
  const el=document.createElementNS(NS,tag);
  for(const k in attrs)el.setAttribute(k,attrs[k]);
  parent.appendChild(el);
  return el;
}
function addSpan(parent,str,style,size,dy){
  const s=mk('tspan',{'font-size':size},parent);
  if(style)s.setAttribute('font-style',style);
  if(dy)s.setAttribute('dy',dy);
  s.textContent=str;
  return s;
}

function drawPanel(cfg){
  const g=mk('g',{},svg);
  
  
  const xs=v=>cfg.L+(v-cfg.x0)/(cfg.x1-cfg.x0)*(cfg.R-cfg.L);
  const ys=v=>cfg.B-(v-cfg.y0)/(cfg.y1-cfg.y0)*(cfg.B-cfg.T);
  const clipId='clip-'+cfg.slug;
  const cp=mk('clipPath',{id:clipId},g);
  mk('rect',{x:cfg.L,y:cfg.T,width:cfg.R-cfg.L,height:cfg.B-cfg.T},cp);

  const plot=mk('g',{'clip-path':'url(#'+clipId+')'},g);
  const redLayer=mk('g',{fill:'#ff0000'},plot);
  
  
  for(let i=0;i+1<cfg.red.length;i+=2){
    const c=mk('circle',{cx:xs(cfg.red[i]),cy:ys(cfg.red[i+1]),r:3.4},redLayer);
    
    
  }
  const greenLayer=mk('g',{fill:'#008000'},plot);
  
  
  for(let i=0;i+1<cfg.green.length;i+=2){
    const c=mk('circle',{cx:xs(cfg.green[i]),cy:ys(cfg.green[i+1]),r:3.4},greenLayer);
    
    
  }

  const grid=mk('g',{stroke:'#b8b8b8','stroke-width':1.6,fill:'none'},plot);
  
  
  cfg.xTicks.forEach(v=>{
    const l=mk('line',{x1:xs(v),x2:xs(v),y1:cfg.T,y2:cfg.B},grid);
    
    
  });
  cfg.yTicks.forEach(v=>{
    const l=mk('line',{y1:ys(v),y2:ys(v),x1:cfg.L,x2:cfg.R},grid);
    
    
  });

  [cfg.greenContour,cfg.redContour].forEach((p,idx)=>{
    contourLevels.forEach(k=>{
      let d='';
      const rt=Math.sqrt(1-p[4]*p[4]);
      for(let a=0;a<=180;a++){
        const t=a/180*2*Math.PI;
        const vx=p[0]+k*p[2]*Math.cos(t);
        const vy=p[1]+k*p[3]*(p[4]*Math.cos(t)+rt*Math.sin(t));
        d+=(a?'L':'M')+xs(vx).toFixed(2)+' '+ys(vy).toFixed(2);
      }
      const e=mk('path',{d:d+'Z',fill:'none',stroke:'#0000ff','stroke-width':2,'stroke-dasharray':'6 2.6'},plot);
      
      
    });
  });

  const frame=mk('rect',{x:cfg.L,y:cfg.T,width:cfg.R-cfg.L,height:cfg.B-cfg.T,fill:'none',stroke:'#000','stroke-width':1.5},g);
  
  

  cfg.xTicks.forEach(v=>{
    const t=mk('line',{x1:xs(v),x2:xs(v),y1:cfg.B,y2:cfg.B+5.5,stroke:'#000','stroke-width':1.4},g);
    
    
    const lb=mk('text',{x:xs(v),y:cfg.B+23.5,'font-size':16,'text-anchor':'middle'},g);
    
    
    lb.textContent=v.toFixed(cfg.xDec);
  });
  cfg.yTicks.forEach(v=>{
    const t=mk('line',{y1:ys(v),y2:ys(v),x1:cfg.L-5.5,x2:cfg.L,stroke:'#000','stroke-width':1.4},g);
    
    
    const lb=mk('text',{x:cfg.L-9,y:ys(v)+5.8,'font-size':16,'text-anchor':'end'},g);
    
    
    lb.textContent=v.toFixed(2);
  });

  const xl=mk('text',{x:(cfg.L+cfg.R)/2,y:cfg.B+52,'text-anchor':'middle'},g);
  
  
  addSpan(xl,'D','italic',23);
  addSpan(xl,'PRNU','italic',15.5,4);

  const yl=mk('text',{transform:'translate('+cfg.yLabelX+' '+((cfg.T+cfg.B)/2)+') rotate(-90)','text-anchor':'middle'},g);
  
  
  addSpan(yl,'D','italic',23);
  addSpan(yl,'NP','italic',15.5,4);

  const bx=mk('rect',{x:cfg.L+8.5,y:cfg.T+17,width:cfg.boxW,height:35.5,fill:'#fff',stroke:'#000','stroke-width':1.5},g);
  
  
  const ann=mk('text',{x:cfg.L+16,y:cfg.T+41,'font-size':22},g);
  
  
  addSpan(ann,'d','italic',22);
  addSpan(ann,' = '+cfg.d+'; ','',22);
  addSpan(ann,'N','italic',22);
  addSpan(ann,' = '+cfg.n,'',22);
}

drawPanel({slug:'d1024-n100',d:'1024',n:'100',L:78,R:581.7,T:0.7,B:408.7,x0:.8161,x1:1.0171,y0:.018,y1:.2791,xDec:3,xTicks:p1XTicks,yTicks:p1YTicks,red:p1Red,green:p1Green.concat(p1GreenCore),redContour:p1RedContour,greenContour:p1GreenContour,boxW:222,yLabelX:17});
drawPanel({slug:'d1024-n1',d:'1024',n:'1',L:681.9,R:1185.5,T:0.7,B:408.7,x0:.9606,x1:1.01035,y0:.0475,y1:.3253,xDec:2,xTicks:p2XTicks,yTicks:p2YTicks,red:p2Red.concat(p2RedCore),green:p2Green.concat(p2GreenCore),redContour:p2RedContour,greenContour:p2GreenContour,boxW:192.5,yLabelX:620});
drawPanel({slug:'d64-n100',d:'64',n:'100',L:78,R:581.7,T:490.3,B:899,x0:.702,x1:1.0734,y0:.0152,y1:.2786,xDec:2,xTicks:p3XTicks,yTicks:p3YTicks,red:p3Red.concat(p3RedCore),green:p3Green.concat(p3GreenCore),redContour:p3RedContour,greenContour:p3GreenContour,boxW:191.5,yLabelX:17});
drawPanel({slug:'d64-n1',d:'64',n:'1',L:681.9,R:1185.5,T:490.3,B:899,x0:.9164,x1:1.0796,y0:.0347,y1:.3373,xDec:2,xTicks:p4XTicks,yTicks:p4YTicks,red:p4Red.concat(p4RedCore),green:p4Green.concat(p4GreenCore),redContour:p4RedContour,greenContour:p4GreenContour,boxW:162.5,yLabelX:620});
</script>
</body>
</html>
